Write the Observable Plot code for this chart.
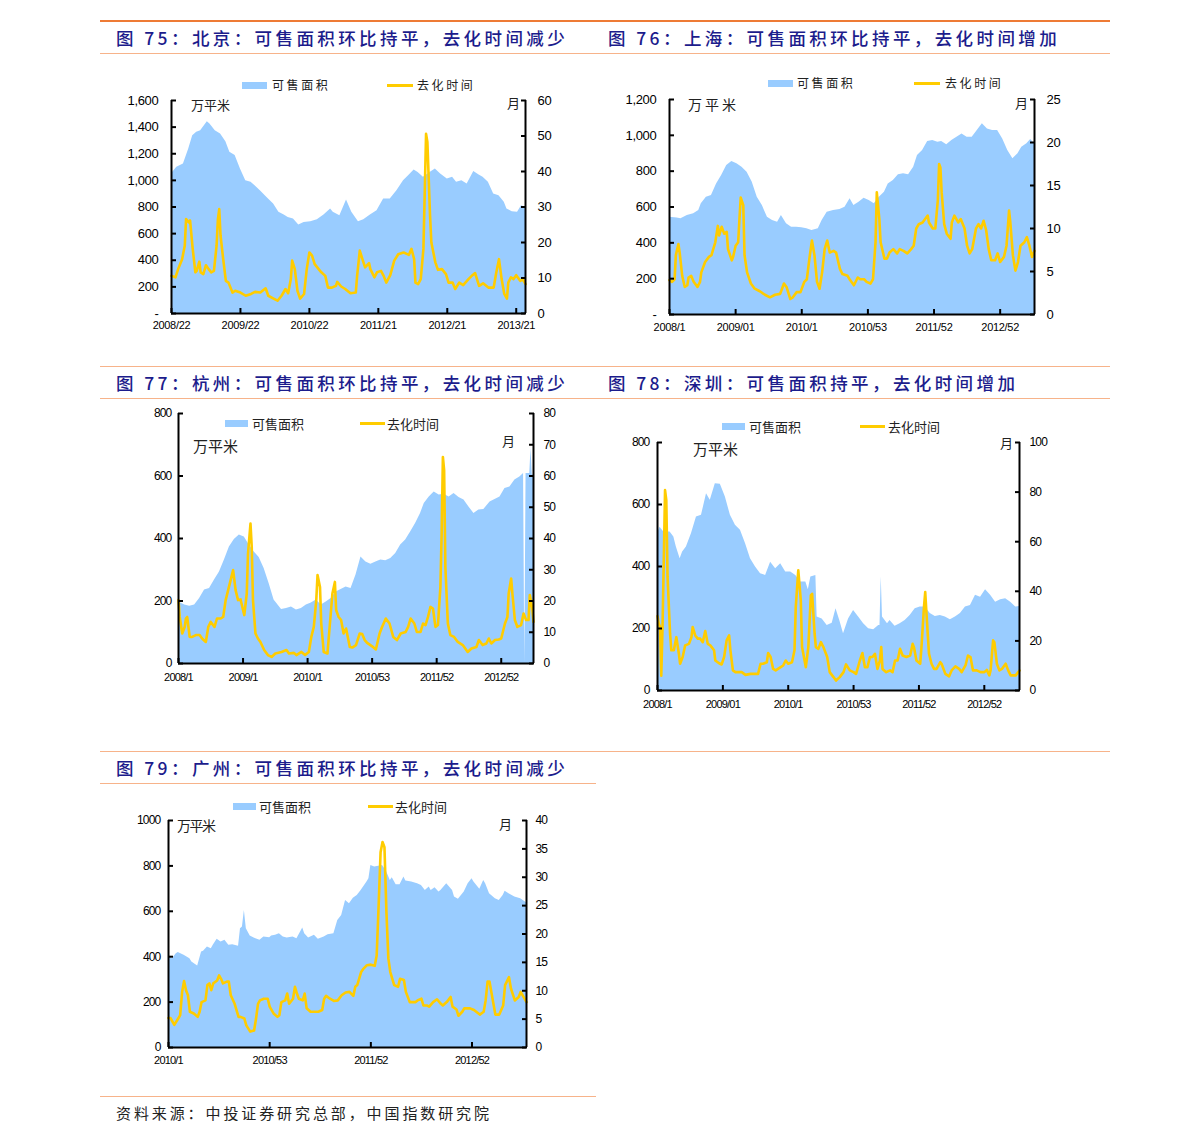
<!DOCTYPE html>
<html><head><meta charset="utf-8">
<script src="https://cdn.jsdelivr.net/npm/d3@7"></script>
<script src="https://cdn.jsdelivr.net/npm/@observablehq/plot@0.6"></script>
<style>
body{margin:0;background:#fff;}
#page{position:relative;width:1191px;height:1143px;overflow:hidden;background:#fff;font-family:Arial,"Liberation Sans",sans-serif;}
.t{position:absolute;white-space:nowrap;line-height:1;transform:translateY(-50%);}
</style></head>
<body><div id="page"></div>
<script>
// ---------------- DATA ----------------
const titles = [
  "图 75：北京：可售面积环比持平，去化时间减少",
  "图 76：上海：可售面积环比持平，去化时间增加",
  "图 77：杭州：可售面积环比持平，去化时间减少",
  "图 78：深圳：可售面积持平，去化时间增加",
  "图 79：广州：可售面积环比持平，去化时间减少"
];
const seriesNames = ["可售面积", "去化时间"];
const unitLeft = "万平米", unitRight = "月";
const source = "资料来源：中投证券研究总部，中国指数研究院";

const bjTicks = ["2008/22","2009/22","2010/22","2011/21","2012/21","2013/21"];
const shTicks = ["2008/1","2009/01","2010/1","2010/53","2011/52","2012/52"];
const hzTicks = ["2008/1","2009/1","2010/1","2010/53","2011/52","2012/52"];
const szTicks = ["2008/1","2009/01","2010/1","2010/53","2011/52","2012/52"];
const gzTicks = ["2010/1","2010/53","2011/52","2012/52"];

// [week index, 可售面积 (万平米)]
const bjArea = [[0,1050],[4,1098],[9,1123],[13,1236],[16,1336],[19,1361],[22,1373],[27,1441],[29,1424],[33,1373],[37,1348],[41,1291],[44,1211],[48,1186],[52,1085],[56,998],[60,985],[63,960],[67,922],[72,872],[77,822],[81,760],[85,740],[88,722],[92,709],[96,664],[100,684],[105,689],[110,704],[115,740],[120,785],[122,760],[127,735],[132,852],[136,760],[141,689],[145,704],[150,740],[155,772],[160,860],[165,860],[170,922],[175,998],[179,1036],[183,1078],[186,1060],[190,1023],[195,1060],[199,1085],[203,1048],[208,1010],[212,1023],[215,985],[219,998],[223,973],[228,1066],[232,1040],[235,1023],[239,985],[243,897],[247,885],[251,835],[253,785],[257,765],[261,760],[264,810],[267,797]];
// [week index, 去化时间 (月)]
const bjLine = [[0,10.6],[3,10.2],[5,12.5],[8,15.3],[10,19.1],[11,26.6],[13,25.7],[14,26.2],[16,18.2],[18,11.6],[19,12],[21,14.6],[22,11.6],[24,11.1],[26,13.6],[28,12.5],[30,11.6],[32,12],[34,19.1],[35,26.6],[36,29.4],[37,21.9],[39,15.3],[41,9.2],[43,8.7],[46,5.9],[48,6.4],[52,5.9],[56,5],[60,5.5],[63,6.1],[67,5.9],[71,7.1],[73,5],[77,4.2],[80,3.6],[83,5],[86,6.9],[88,5.7],[90,9.7],[91,14.9],[93,12.5],[95,6.4],[97,4.2],[100,5.5],[102,12.5],[104,17.2],[106,16.3],[108,13.9],[111,12.5],[113,11.6],[116,10.6],[118,7.3],[121,7.3],[124,7.8],[125,8.9],[128,7.6],[131,6.9],[135,5.7],[139,5.9],[140,10.6],[142,17.7],[144,15.3],[146,13],[149,14.2],[150,12.5],[153,10.2],[155,11.6],[158,12],[160,10.6],[162,8.7],[165,10.8],[168,14.9],[171,16.7],[175,17.2],[179,16.5],[181,18.2],[183,15.3],[184,8.7],[186,8.3],[188,9.7],[190,18.2],[191,34.1],[192,50.6],[193,48.3],[195,27.6],[196,20],[199,14.4],[201,12.3],[204,12.5],[207,11.1],[209,8.7],[212,8.7],[214,6.9],[217,8.7],[220,8],[224,9.7],[227,10.8],[229,11.4],[232,7.8],[235,8.5],[239,7.3],[243,7.3],[245,11.6],[247,15.3],[249,9.7],[251,5.5],[253,4.2],[254,8.7],[256,10.2],[258,9.7],[260,10.8],[263,9.2],[265,9.7],[267,8.3]];

const shArea = [[0,543],[6,538],[9,534],[14,553],[19,562],[23,580],[25,618],[29,655],[33,664],[37,729],[41,776],[45,832],[49,854],[53,841],[57,822],[61,794],[65,739],[69,655],[73,608],[77,543],[81,525],[85,515],[88,553],[92,506],[96,487],[100,487],[104,484],[108,478],[112,469],[117,478],[120,525],[124,571],[129,580],[134,586],[138,599],[142,646],[145,608],[149,627],[153,649],[157,636],[161,618],[165,655],[169,683],[172,729],[176,748],[180,780],[184,785],[188,780],[192,822],[195,887],[199,915],[203,966],[207,971],[211,962],[214,966],[218,947],[222,971],[226,990],[230,1008],[234,990],[238,990],[242,1027],[246,1064],[250,1036],[254,1027],[258,1027],[262,980],[266,915],[270,869],[274,897],[277,934],[281,953],[284,977],[287,953]];
const shLine = [[0,4],[2,3.8],[4,4.1],[5,6.9],[7,8.2],[8,7.2],[10,4.5],[12,3.2],[14,3.4],[15,4.3],[17,4.5],[19,3.8],[22,3.2],[24,3.8],[25,4.9],[28,6.1],[31,6.7],[33,6.9],[36,8.4],[38,10.3],[39,9.2],[41,10.2],[43,9.4],[45,9.6],[46,7.6],[49,6.3],[50,6.7],[52,8],[54,8.4],[55,11.1],[56,13.6],[58,12.7],[59,6.9],[61,4.9],[64,3.6],[67,3],[71,2.7],[75,2.3],[79,2],[83,2.3],[87,2.4],[90,3.6],[92,3.2],[95,1.8],[97,2],[100,2.6],[103,2.6],[106,3.8],[108,4.1],[110,6.5],[112,8.6],[114,6.9],[116,3.8],[118,3],[120,4.9],[122,7.6],[124,8.6],[126,7.2],[129,7.4],[131,7.2],[134,5.3],[136,4.7],[140,4.5],[142,4],[145,3.4],[148,4.3],[150,4.1],[153,4.1],[155,3.8],[158,3.6],[160,4.1],[162,8.4],[163,14.2],[165,11.1],[166,8.4],[169,6.5],[171,6.5],[173,7.2],[176,7.6],[179,7.1],[181,7.6],[184,7.4],[187,7.1],[190,7.6],[192,8],[194,10],[196,10.5],[199,10.7],[201,11.1],[203,11.5],[204,10.7],[207,10],[209,10],[211,13.3],[212,17.5],[213,17.1],[214,14.2],[216,10.5],[218,9.4],[221,8.8],[222,10.7],[224,11.5],[227,10.7],[229,11.1],[232,10],[234,8],[236,7.1],[238,7.6],[241,10],[243,10.5],[245,10],[247,10.9],[249,9.8],[251,7.6],[253,6.3],[256,6.3],[258,7.1],[260,6.1],[263,6.7],[265,8],[267,12.1],[268,10.7],[270,6.9],[272,5.1],[274,6.1],[276,8],[279,8.4],[281,9],[283,8],[285,6.7],[287,7.4]];

const hzArea = [[0,197],[5,187],[9,183],[13,187],[17,208],[21,235],[25,240],[29,267],[33,293],[37,331],[41,373],[45,397],[49,411],[53,405],[57,379],[61,357],[65,339],[69,304],[73,256],[77,203],[83,173],[87,176],[91,181],[95,171],[99,176],[103,187],[107,194],[111,203],[115,187],[119,197],[123,208],[127,229],[131,237],[135,245],[139,240],[143,283],[147,341],[151,325],[155,318],[159,325],[163,331],[167,329],[171,336],[175,352],[179,379],[183,395],[187,421],[191,448],[195,480],[198,512],[202,533],[206,549],[210,539],[214,542],[218,533],[222,544],[226,531],[230,523],[234,501],[238,480],[242,491],[246,493],[251,517],[255,525],[259,533],[263,560],[267,565],[271,587],[275,597],[278,608],[279,null],[280,608],[283,608],[284,688],[285,603],[286,603]];
const hzLine = [[0,20.3],[1,14.9],[3,9.6],[5,11.7],[6,14.4],[7,14.9],[9,8.5],[11,8.5],[14,9.1],[17,9.1],[19,8],[22,6.9],[24,11.7],[26,13.3],[29,11.7],[31,14.4],[34,14.4],[36,14.9],[38,20.3],[40,23.5],[42,26.7],[44,29.9],[46,23.5],[48,20.3],[50,20.5],[52,17.1],[53,15.5],[55,22.4],[56,35.2],[58,44.8],[59,37.3],[60,20.3],[62,9.6],[64,8],[66,6.9],[69,4.3],[72,2.7],[75,2.1],[78,3.2],[83,3.7],[87,4.3],[89,3.2],[93,3.4],[95,2.7],[99,3.7],[102,2.7],[105,3.7],[107,8.5],[109,11.7],[111,20.3],[112,28.3],[114,24.5],[115,12.8],[117,3.7],[120,3.2],[122,12.8],[124,22.4],[126,26.1],[127,17.1],[129,14.9],[131,13.9],[133,9.6],[135,11.2],[138,5.3],[140,5.1],[143,5.9],[146,9.6],[148,9.4],[150,7.5],[152,6.6],[156,5.5],[159,4.5],[162,9.6],[164,11.7],[167,14.4],[170,12.8],[173,8.5],[176,7.5],[179,9.6],[183,10.1],[185,11.7],[187,14.4],[190,12.8],[192,10.1],[195,10.1],[197,12.8],[199,12.3],[201,14.9],[203,18.1],[205,17.6],[207,11.7],[209,12.3],[211,24.5],[212,41.6],[213,66.1],[214,61.9],[215,30.9],[217,12.8],[219,9.1],[222,8.5],[225,6.9],[229,5.9],[233,3.7],[236,4.8],[240,5.3],[242,7.5],[245,5.9],[248,6.4],[250,8],[252,6.4],[255,7.5],[258,7.7],[260,8],[263,12.8],[265,14.9],[266,22.4],[268,27.2],[269,22.4],[271,13.9],[273,11.7],[276,12.3],[278,16],[280,13.9],[282,13.9],[283,21.9],[285,17.6],[286,13.3]];

const szArea = [[0,506],[2,527],[5,511],[7,511],[10,511],[13,495],[15,463],[18,425],[20,447],[23,463],[27,506],[31,560],[35,565],[39,635],[42,614],[46,667],[50,665],[54,624],[58,565],[62,533],[66,517],[70,474],[74,425],[78,398],[82,377],[86,371],[90,414],[94,393],[98,409],[102,382],[106,382],[110,371],[114,350],[118,350],[120,325],[122,366],[126,371],[127,237],[131,231],[135,210],[139,217],[142,264],[145,226],[148,183],[152,231],[156,258],[160,237],[164,215],[168,199],[172,196],[176,210],[177,210],[178,366],[179,237],[183,215],[185,226],[189,207],[193,215],[197,226],[201,242],[205,264],[209,269],[213,269],[217,248],[221,239],[225,242],[229,237],[233,228],[237,237],[241,248],[245,269],[249,274],[253,307],[257,301],[261,325],[265,307],[269,285],[273,293],[277,296],[281,285],[285,269],[288,271]];
const szLine = [[0,30],[1,27],[2,25.6],[3,6],[4,25.6],[5,52.5],[6,80.8],[7,76.7],[8,45.8],[10,22.9],[11,16.2],[13,16.2],[15,21.5],[17,14.8],[18,10.8],[20,13.5],[22,18.2],[25,18.8],[27,21.5],[28,25.6],[30,22.2],[32,20.9],[34,20.9],[36,19.5],[38,24],[40,18.8],[42,18.2],[45,16.2],[46,12.1],[49,11],[51,10.5],[53,13.5],[55,20.2],[57,22.2],[58,16.2],[60,8.1],[62,7.4],[64,7.4],[67,7.4],[70,6.3],[74,6.7],[78,6.7],[80,6.7],[82,10.8],[84,10.8],[87,11.4],[88,15.1],[90,13.5],[92,8.7],[94,8.1],[98,9.4],[100,10.1],[102,12.1],[104,10.8],[107,11.4],[109,16.2],[110,33.6],[112,48.5],[114,36.3],[115,17.5],[117,12.1],[118,9.4],[120,17.5],[122,38.4],[123,39],[125,22.9],[126,17.5],[128,16.8],[130,19.5],[132,17.5],[135,13.5],[137,7.4],[140,5.4],[142,4],[145,5.4],[148,7.4],[150,10.5],[153,8.1],[156,7.4],[158,6.7],[161,12.1],[163,15.1],[165,9.4],[167,9.4],[169,13.5],[171,13.5],[173,14.8],[175,8.7],[177,12.1],[178,17.5],[179,8.7],[182,7.4],[185,8.1],[187,7.4],[189,12.1],[191,12.1],[193,16.8],[195,14.1],[198,13.5],[201,14.1],[203,18.8],[204,17.5],[206,12.1],[209,10.8],[210,17.5],[212,33.6],[213,39.7],[214,31],[216,14.8],[218,10.8],[220,8.7],[222,8.7],[225,11.4],[226,10.8],[229,6.7],[232,5.7],[234,8.1],[237,9.7],[240,8.7],[242,7.4],[245,10.1],[247,14.1],[249,13.5],[251,8.1],[254,8.1],[257,7.4],[260,7.4],[262,8.3],[264,6.1],[265,8.1],[267,20.2],[268,19.5],[270,10.8],[272,8.1],[274,8.7],[277,10.8],[279,8.1],[281,6.1],[285,6.1],[288,8.1]];

const gzArea = [[0,406],[2,391],[4,413],[5,418],[8,406],[11,391],[12,377],[15,359],[17,421],[18,424],[20,443],[22,435],[23,450],[25,477],[27,465],[29,472],[31,450],[33,453],[36,446],[37,523],[38,531],[39,604],[40,523],[42,491],[44,482],[47,472],[49,487],[52,484],[53,491],[55,494],[57,501],[59,487],[61,482],[64,487],[66,479],[69,526],[70,501],[72,482],[75,494],[77,477],[80,487],[82,497],[85,501],[87,560],[89,582],[91,648],[93,633],[95,658],[97,670],[99,692],[102,729],[103,743],[104,802],[106,795],[108,799],[110,802],[112,776],[114,736],[115,748],[117,717],[119,717],[121,751],[122,733],[125,729],[128,721],[130,714],[132,692],[134,707],[135,692],[137,704],[139,685],[140,692],[143,721],[146,692],[147,663],[149,653],[152,685],[154,721],[156,743],[157,729],[160,697],[162,736],[163,721],[165,677],[168,655],[170,648],[172,670],[173,688],[175,677],[178,663],[181,655],[184,638]];
const gzLine = [[0,5.2],[1,5.2],[3,4],[5,5.1],[6,5.7],[7,9.8],[8,11.7],[9,10.1],[10,9.2],[11,6.3],[13,6],[15,5.4],[16,6.3],[17,8],[19,8.3],[20,11],[21,11.3],[22,10.1],[23,11.3],[25,11.8],[26,12.7],[27,12.1],[28,11.3],[30,11.6],[31,11.6],[32,9.2],[34,7.7],[36,5.4],[37,5.4],[39,5.1],[40,3.9],[42,2.8],[44,3],[45,5.1],[46,7.7],[47,8.3],[49,8.6],[51,8.6],[52,7.2],[54,6],[56,5.4],[57,5.7],[58,8],[60,8.3],[61,9.5],[62,7.7],[64,8.6],[65,10.7],[66,9.5],[67,8.6],[69,8.3],[70,9.5],[71,6.9],[73,6.3],[75,6.3],[77,6.3],[79,6.6],[80,8.6],[81,9.1],[83,8.6],[85,8.2],[87,8.3],[89,9.2],[91,9.7],[93,9.8],[95,9.1],[96,10.7],[97,11],[99,13.3],[100,13.8],[102,14.5],[104,14.6],[106,14.4],[107,16.2],[108,25],[109,34.4],[110,36.2],[111,35.3],[112,23.9],[113,15.7],[114,13.3],[116,11],[118,10.7],[119,12.1],[121,11.9],[122,9.8],[124,8],[127,8],[128,8.3],[130,8.6],[131,7.4],[133,7.4],[134,7.2],[136,8],[138,8.5],[140,7.7],[141,7.4],[143,8],[145,8.9],[146,7.2],[148,6.7],[149,5.6],[151,6.3],[152,6.9],[155,6.9],[157,6.6],[160,5.8],[162,6.3],[163,8.3],[164,11.6],[165,11.6],[167,7.7],[168,5.8],[170,5.8],[172,7.4],[173,11],[175,12.4],[176,10.4],[178,8.3],[180,8.9],[181,9.8],[184,8]];

// ---------------- LAYOUT / STYLE ----------------
const AREA_COLOR = "#99CCFF", LINE_COLOR = "#FFCC00";
const page = document.getElementById("page");

function txt(s, x, yc, css) {
  const d = document.createElement("div");
  d.className = "t"; d.textContent = s;
  d.style.left = x + "px"; d.style.top = yc + "px";
  d.style.cssText += css || "";
  page.appendChild(d);
  return d;
}
function box(x, y, w, h, color) {
  const d = document.createElement("div");
  d.style.cssText = `position:absolute;left:${x}px;top:${y}px;width:${w}px;height:${h}px;background:${color};`;
  page.appendChild(d);
}

const panels = [
  {area: bjArea, line: bjLine, xl: bjTicks, xMax: 267, yMax: 1600, yStep: 200, rMax: 60, rStep: 10, dash: true,
   left: 100, top: 88, w: 480, h: 255, ml: 71, mr: 55, mt: 12, mb: 30, padL: 13, padR: 12, padB: 8,
   yFont: 13, xFont: 11, ls: "-0.3px",
   title: [116, 38], leg: {y: 85, r: [242, 25], t1: 272, l: [387, 26], t2: 417, font: 12, ls: "2.6px"},
   unitL: [191, 104, "font-size:13px;"], unitR: [507, 102, "font-size:13px;"]},
  {area: shArea, line: shLine, xl: shTicks, xMax: 287, yMax: 1200, yStep: 200, rMax: 25, rStep: 5, dash: true,
   left: 600, top: 88, w: 490, h: 255, ml: 69, mr: 56, mt: 11, mb: 29, padL: 13, padR: 12, padB: 9,
   yFont: 13, xFont: 11, ls: "-0.3px",
   title: [608, 38], leg: {y: 83, r: [768, 25], t1: 797, l: [914, 26], t2: 945, font: 12, ls: "2.6px"},
   unitL: [688, 104, "font-size:14px;letter-spacing:3px;"], unitR: [1015, 102, "font-size:13px;"]},
  {area: hzArea, line: hzLine, xl: hzTicks, xMax: 286, yMax: 800, yStep: 200, rMax: 80, rStep: 10, dash: false,
   left: 100, top: 400, w: 490, h: 300, ml: 78, mr: 57, mt: 13, mb: 37, padL: 7, padR: 10, padB: 10,
   yFont: 12, xFont: 11, ls: "-0.8px",
   title: [116, 383], leg: {y: 423, r: [225, 23], t1: 252, l: [360, 25], t2: 387, font: 13, ls: "0px"},
   unitL: [193, 445, "font-size:15px;"], unitR: [502, 440, "font-size:13px;"]},
  {area: szArea, line: szLine, xl: szTicks, xMax: 288, yMax: 800, yStep: 200, rMax: 100, rStep: 20, dash: false,
   left: 600, top: 430, w: 490, h: 290, ml: 57, mr: 71, mt: 12, mb: 30, padL: 8, padR: 10, padB: 10,
   yFont: 12, xFont: 11, ls: "-0.8px",
   title: [608, 383], leg: {y: 426, r: [722, 23], t1: 749, l: [860, 25], t2: 888, font: 13, ls: "0px"},
   unitL: [693, 448, "font-size:15px;"], unitR: [1000, 442, "font-size:13px;"]},
  {area: gzArea, line: gzLine, xl: gzTicks, xMax: 184, yMax: 1000, yStep: 200, rMax: 40, rStep: 5, dash: false,
   left: 100, top: 808, w: 490, h: 270, ml: 68, mr: 64, mt: 12, mb: 31, padL: 8, padR: 9, padB: 9,
   yFont: 12, xFont: 11, ls: "-0.8px",
   title: [116, 768], leg: {y: 806, r: [233, 23], t1: 259, l: [368, 25], t2: 395, font: 13, ls: "0px"},
   unitL: [177, 825, "font-size:14px;letter-spacing:-1.5px;"], unitR: [499, 823, "font-size:13px;"]}
];

// separator lines
box(100, 20, 1010, 1.5, "#EE7B35");
box(100, 52.5, 1010, 1.5, "#F7B38A");
box(100, 365.5, 1010, 1.5, "#F7B38A");
box(100, 397.5, 1010, 1.5, "#F7B38A");
box(100, 750.5, 1010, 1.5, "#F7B38A");
box(100, 782.5, 496, 1.5, "#F7B38A");
box(100, 1095.5, 496, 1.5, "#F7B38A");

const titleCss = "font-family:'Noto Sans CJK SC',sans-serif;font-size:17.5px;letter-spacing:3.4px;color:#1c1c8c;font-weight:500;";
const cjk = "font-family:'Noto Sans CJK SC',sans-serif;color:#222;";

panels.forEach((c, i) => {
  const k = c.yMax / c.rMax;
  const A = c.area.map(([w, v]) => ({w, v}));
  const L = c.line.map(([w, v]) => ({w, v: v * k}));
  const xt = c.xl.map((_, j) => j * 52);
  const xlab = new Map(xt.map((t, j) => [t, c.xl[j]]));
  const yt = d3.range(0, c.yMax + 1, c.yStep);
  const rt = d3.range(0, c.rMax + 0.001, c.rStep).map(r => r * k);
  const fL = c.dash ? (d => d === 0 ? "-" : d3.format(",")(d)) : (d => String(d));
  const fR = d => String(Math.round(d / k));
  const svg = Plot.plot({
    width: c.w, height: c.h,
    marginLeft: c.ml, marginRight: c.mr, marginTop: c.mt, marginBottom: c.mb,
    x: {domain: [0, c.xMax], axis: null},
    y: {domain: [0, c.yMax], axis: null, label: null},
    style: {fontFamily: "Arial, 'Liberation Sans', sans-serif", color: "#000", background: "transparent", overflow: "visible", letterSpacing: c.ls},
    marks: [
      Plot.areaY(A, {x: "w", y: "v", fill: AREA_COLOR, curve: "linear"}),
      Plot.lineY(L, {x: "w", y: "v", stroke: LINE_COLOR, strokeWidth: 2.6, strokeLinejoin: "round"}),
      Plot.ruleY([0], {stroke: "#000", strokeWidth: 2}),
      Plot.ruleX([0, c.xMax], {stroke: "#000", strokeWidth: 2}),
      Plot.axisY({anchor: "left", ticks: yt, tickSize: 5, dx: 5, tickFormat: () => "", strokeWidth: 2, label: null}),
      Plot.axisY({anchor: "left", ticks: yt, tickSize: 0, tickPadding: c.padL, tickFormat: fL, fontSize: c.yFont, label: null}),
      Plot.axisY({anchor: "right", ticks: rt, tickSize: 5, dx: -5, tickFormat: () => "", strokeWidth: 2, label: null}),
      Plot.axisY({anchor: "right", ticks: rt, tickSize: 0, tickPadding: c.padR, tickFormat: fR, fontSize: c.yFont, label: null}),
      Plot.axisX({anchor: "bottom", ticks: xt, tickSize: 5, dy: -5, tickFormat: () => "", strokeWidth: 2, label: null}),
      Plot.axisX({anchor: "bottom", ticks: xt, tickSize: 0, tickPadding: c.padB, tickFormat: d => xlab.get(d), fontSize: c.xFont, label: null})
    ]
  });
  svg.style.position = "absolute";
  svg.style.left = c.left + "px";
  svg.style.top = c.top + "px";
  page.appendChild(svg);

  // title
  txt(titles[i], c.title[0], c.title[1], titleCss);
  // legend
  const g = c.leg;
  box(g.r[0], g.y - 3.5, g.r[1], 7, AREA_COLOR);
  txt(seriesNames[0], g.t1, g.y, cjk + `font-size:${g.font}px;letter-spacing:${g.ls};`);
  box(g.l[0], g.y - 1.5, g.l[1], 3, LINE_COLOR);
  txt(seriesNames[1], g.t2, g.y, cjk + `font-size:${g.font}px;letter-spacing:${g.ls};`);
  // units
  txt(unitLeft, c.unitL[0], c.unitL[1], cjk + c.unitL[2]);
  txt(unitRight, c.unitR[0], c.unitR[1], cjk + c.unitR[2]);
});

txt(source, 116, 1112, "font-family:'Noto Sans CJK SC',sans-serif;font-size:15px;letter-spacing:2.9px;color:#222;");
</script>
</body></html>
